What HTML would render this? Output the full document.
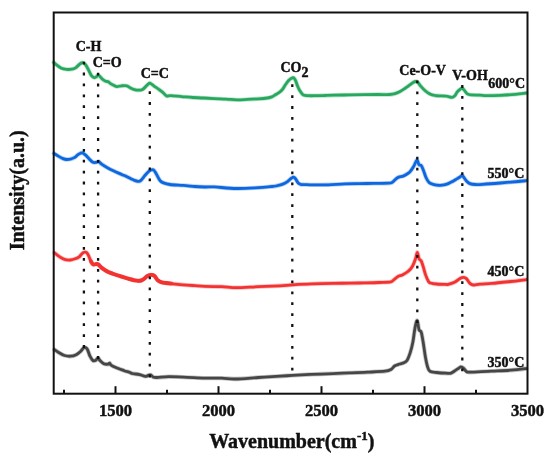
<!DOCTYPE html>
<html><head><meta charset="utf-8"><style>
html,body{margin:0;padding:0;background:#fff;}
svg{display:block;}
#w{width:550px;height:458px;}
text{font-family:"Liberation Serif","DejaVu Serif",serif;font-weight:bold;fill:#111;stroke:#111;stroke-width:0.45px;}
</style></head><body><div id="w">
<svg width="550" height="458" viewBox="0 0 550 458">
<g fill="none" stroke-width="4.4" stroke-opacity="0.3" stroke-linejoin="round" stroke-linecap="round">
<path stroke="#27a85e" d="M53.8,62.4C54.2,62.8 55.3,63.9 56.5,64.8C57.7,65.7 59.2,67.1 60.9,67.9C62.5,68.7 64.6,69.2 66.4,69.4C68.2,69.6 70.3,69.5 71.8,69.2C73.3,69.0 74.4,68.6 75.6,67.9C76.8,67.2 77.9,65.6 78.9,64.8C79.9,64.0 80.8,63.2 81.6,62.9C82.4,62.6 83.1,62.5 83.8,62.9C84.5,63.3 85.2,64.2 86.0,65.4C86.8,66.6 87.8,68.6 88.7,70.3C89.6,72.0 90.6,74.5 91.5,75.7C92.4,76.9 93.4,77.4 94.2,77.6C95.0,77.8 95.8,77.2 96.4,76.8C97.0,76.3 97.4,74.9 98.0,74.9C98.6,74.9 99.5,76.1 100.2,76.8C100.9,77.5 101.5,78.5 102.4,79.2C103.3,79.9 104.6,80.8 105.6,81.2C106.6,81.6 107.5,81.4 108.3,81.8C109.1,82.2 109.6,83.0 110.5,83.6C111.4,84.2 112.6,84.8 113.7,85.3C114.8,85.8 115.7,86.5 117.0,86.6C118.3,86.7 119.8,85.9 121.4,85.8C123.0,85.7 125.3,85.5 126.8,85.8C128.2,86.1 128.8,87.1 130.1,87.7C131.4,88.3 133.1,89.2 134.5,89.6C135.9,90.0 137.5,90.2 138.8,90.2C140.2,90.2 141.4,90.0 142.6,89.4C143.8,88.8 144.8,87.4 145.9,86.4C147.0,85.4 148.4,83.8 149.2,83.3C150.0,82.8 150.0,83.1 150.8,83.6C151.6,84.1 152.8,85.2 154.1,86.1C155.4,87.0 157.1,88.0 158.5,89.1C159.9,90.1 161.5,91.3 162.8,92.4C164.1,93.5 165.2,95.4 166.5,95.9C167.8,96.4 168.3,95.5 170.9,95.6C173.5,95.7 178.2,96.3 181.8,96.6C185.4,96.9 189.1,97.3 192.7,97.5C196.3,97.7 200.0,97.8 203.6,98.0C207.2,98.2 210.8,98.4 214.5,98.6C218.2,98.8 222.2,98.9 225.9,99.1C229.6,99.3 233.2,99.9 236.8,99.9C240.4,100.0 244.1,99.6 247.7,99.4C251.3,99.2 255.3,99.0 258.6,98.8C261.9,98.6 265.2,98.3 267.4,98.0C269.6,97.7 270.3,97.5 271.7,96.9C273.1,96.3 274.5,95.3 275.9,94.5C277.3,93.7 278.9,92.6 280.0,91.8C281.1,91.0 281.8,90.3 282.5,89.4C283.2,88.5 283.8,87.3 284.5,86.2C285.2,85.1 286.0,83.8 286.8,82.8C287.6,81.8 288.4,80.7 289.1,80.0C289.9,79.3 290.6,78.8 291.3,78.4C292.0,78.0 292.7,77.5 293.3,77.7C293.9,77.9 294.5,78.7 295.0,79.5C295.5,80.3 295.9,81.4 296.3,82.5C296.7,83.6 297.0,84.8 297.6,86.2C298.2,87.6 299.0,89.4 299.9,90.8C300.8,92.2 301.8,93.7 302.7,94.5C303.6,95.3 304.0,95.2 305.0,95.4C306.0,95.6 306.5,95.7 308.6,95.7C310.7,95.8 314.7,95.7 317.4,95.7C320.1,95.7 322.1,95.6 325.0,95.5C327.9,95.4 330.5,95.3 334.5,95.2C338.5,95.1 344.2,95.0 349.1,94.9C354.0,94.8 358.8,94.7 363.6,94.6C368.5,94.5 373.8,94.5 378.2,94.5C382.6,94.5 387.0,94.7 389.8,94.5C392.6,94.3 393.3,94.1 395.0,93.6C396.7,93.1 398.3,92.5 400.0,91.6C401.7,90.7 403.4,89.5 405.0,88.4C406.6,87.3 408.1,86.2 409.5,85.2C410.9,84.2 412.4,82.8 413.5,82.2C414.6,81.6 415.4,81.4 416.2,81.5C417.0,81.6 417.5,82.0 418.2,82.7C418.9,83.4 419.3,84.5 420.5,85.9C421.7,87.3 423.9,89.7 425.5,91.0C427.1,92.3 428.3,93.2 429.9,93.9C431.5,94.7 433.6,95.2 435.0,95.5C436.4,95.8 436.7,95.7 438.6,95.8C440.5,95.9 444.1,95.8 446.3,96.1C448.5,96.3 450.6,97.4 452.0,97.3C453.4,97.2 454.1,96.4 455.0,95.5C455.9,94.6 456.4,92.9 457.3,91.8C458.2,90.7 459.7,89.6 460.5,89.0C461.3,88.4 461.6,88.0 462.3,88.2C463.0,88.5 463.7,89.5 464.5,90.5C465.3,91.5 466.2,93.2 467.3,93.9C468.4,94.6 468.8,94.7 470.9,94.9C473.0,95.1 477.4,95.1 480.0,95.2C482.6,95.3 482.9,95.6 486.4,95.6C489.9,95.6 496.0,95.5 500.9,95.3C505.8,95.1 511.2,94.7 515.5,94.3C519.8,93.9 524.6,93.2 526.4,93.0"/>
<path stroke="#0d67de" d="M54.0,153.4C54.8,153.9 57.2,155.5 58.7,156.4C60.2,157.3 61.7,158.1 63.0,158.6C64.3,159.1 65.5,159.4 66.7,159.5C67.9,159.6 69.1,159.4 70.4,159.1C71.7,158.8 73.4,158.2 74.7,157.4C76.0,156.7 77.0,155.3 78.0,154.6C79.0,153.9 79.8,153.5 80.5,153.2C81.2,152.9 81.7,152.6 82.5,152.9C83.3,153.2 84.5,154.1 85.6,155.1C86.7,156.1 88.1,157.8 89.3,159.0C90.5,160.2 91.7,161.8 92.9,162.3C94.1,162.9 95.5,162.4 96.5,162.3C97.5,162.2 97.9,161.2 98.7,161.5C99.5,161.8 100.0,163.0 101.6,164.1C103.2,165.2 105.9,166.9 108.2,168.2C110.5,169.5 113.1,170.6 115.5,171.7C117.9,172.8 121.1,174.3 122.7,175.0C124.3,175.7 123.7,175.2 125.0,175.8C126.3,176.4 129.2,177.9 130.8,178.7C132.4,179.5 133.3,180.0 134.5,180.4C135.7,180.8 136.9,181.2 137.9,181.3C138.9,181.4 139.3,181.7 140.5,180.7C141.7,179.7 143.6,177.0 145.1,175.3C146.6,173.6 148.5,171.5 149.7,170.6C150.8,169.7 151.3,169.9 152.0,169.8C152.7,169.7 153.1,169.6 153.6,170.0C154.1,170.4 154.5,170.9 155.2,172.0C155.9,173.1 156.8,174.9 157.6,176.4C158.4,177.9 159.2,179.7 160.2,180.8C161.2,181.9 161.9,182.3 163.5,182.9C165.1,183.5 166.7,184.1 170.0,184.5C173.3,184.9 179.1,185.1 183.2,185.4C187.3,185.7 191.2,186.2 194.8,186.5C198.4,186.8 201.7,186.9 205.0,187.0C208.3,187.1 209.3,186.7 214.5,186.9C219.7,187.2 229.1,188.4 236.4,188.5C243.7,188.6 252.6,188.0 258.2,187.7C263.8,187.4 267.0,187.0 270.0,186.7C273.0,186.4 274.0,186.4 276.0,186.0C278.0,185.6 280.3,185.1 282.2,184.4C284.1,183.7 285.8,182.8 287.1,181.9C288.4,181.0 289.3,179.9 290.2,179.1C291.1,178.3 292.0,177.5 292.7,177.3C293.4,177.1 293.9,177.2 294.5,177.7C295.1,178.2 295.8,179.2 296.4,180.1C297.0,181.0 297.5,182.3 298.2,183.0C298.9,183.7 299.6,184.0 300.7,184.3C301.8,184.6 302.9,184.5 305.0,184.6C307.1,184.7 309.7,184.9 313.6,184.9C317.5,184.9 323.0,185.0 328.2,184.8C333.4,184.6 339.8,184.1 345.0,183.9C350.2,183.7 354.6,183.7 359.5,183.6C364.4,183.5 369.2,183.5 374.1,183.4C379.0,183.3 385.6,183.4 388.6,183.2C391.6,183.0 391.1,183.0 392.3,182.3C393.5,181.6 394.8,179.9 395.9,179.0C397.0,178.1 397.6,177.6 398.8,177.1C400.0,176.6 401.8,176.7 403.2,176.1C404.6,175.5 406.4,174.4 407.5,173.7C408.6,173.0 409.0,173.0 410.1,171.7C411.2,170.4 412.8,167.9 413.9,166.0C415.0,164.1 416.0,160.2 416.9,160.0C417.8,159.8 418.3,163.8 419.0,164.7C419.7,165.6 420.6,164.6 421.3,165.6C422.1,166.6 422.7,168.5 423.5,170.5C424.3,172.5 425.1,175.5 426.0,177.5C426.9,179.5 427.8,181.4 429.2,182.6C430.6,183.8 432.6,184.1 434.3,184.6C436.0,185.1 437.9,185.2 439.5,185.3C441.1,185.4 442.6,185.2 444.0,184.9C445.4,184.6 446.7,184.2 448.2,183.6C449.7,183.0 451.5,182.0 453.0,181.2C454.5,180.4 456.1,179.3 457.3,178.6C458.5,177.9 459.2,177.5 460.0,177.0C460.8,176.5 461.6,175.3 462.3,175.5C463.1,175.7 463.8,177.5 464.5,178.4C465.2,179.3 465.5,180.0 466.4,180.9C467.3,181.8 468.5,183.0 470.0,183.6C471.5,184.2 473.4,184.4 475.5,184.5C477.6,184.6 478.5,184.6 482.7,184.3C486.9,184.1 494.6,183.5 500.5,183.0C506.4,182.5 513.9,181.9 518.2,181.5C522.5,181.1 525.1,180.8 526.5,180.7"/>
<path stroke="#f33232" d="M54.4,252.7C55.1,253.3 57.0,255.0 58.7,256.1C60.4,257.2 62.5,258.8 64.5,259.4C66.5,260.0 68.5,260.2 70.4,260.0C72.4,259.8 74.8,258.9 76.2,258.4C77.7,257.9 78.2,257.6 79.1,256.9C80.0,256.2 80.8,255.0 81.5,254.3C82.2,253.6 82.8,252.8 83.5,252.5C84.2,252.2 84.9,252.1 85.5,252.2C86.1,252.3 86.8,252.7 87.3,253.3C87.8,253.9 88.1,254.6 88.7,255.9C89.3,257.2 90.2,259.8 90.9,261.2C91.6,262.6 92.2,263.9 93.1,264.4C94.0,264.9 95.5,264.0 96.4,264.0C97.3,264.0 97.6,264.0 98.5,264.6C99.4,265.2 100.3,266.8 101.8,267.9C103.3,269.0 105.5,270.5 107.3,271.5C109.1,272.5 110.9,273.0 112.7,273.7C114.5,274.4 116.2,274.9 118.0,275.5C119.8,276.1 121.8,276.6 123.6,277.2C125.4,277.8 127.2,278.4 129.0,278.9C130.8,279.4 133.0,280.0 134.5,280.3C136.0,280.6 136.9,280.8 138.1,280.8C139.3,280.8 140.4,280.8 141.5,280.4C142.6,280.0 143.6,279.3 144.5,278.6C145.4,277.9 146.1,276.8 147.1,276.2C148.1,275.6 149.2,275.0 150.4,274.9C151.6,274.8 153.1,274.8 154.3,275.7C155.5,276.6 156.4,279.0 157.6,280.1C158.8,281.2 160.1,281.8 161.5,282.3C162.9,282.8 164.3,282.8 166.0,283.0C167.7,283.2 168.6,283.3 171.5,283.6C174.4,283.9 179.3,284.6 183.2,284.9C187.1,285.2 191.2,285.4 194.8,285.6C198.4,285.9 200.5,286.2 205.0,286.4C209.5,286.6 216.6,286.5 221.8,286.7C227.0,286.9 230.3,287.7 236.4,287.7C242.5,287.7 250.9,287.0 258.2,286.7C265.5,286.4 274.3,286.1 280.0,285.8C285.7,285.5 287.3,285.1 292.5,284.8C297.7,284.5 304.6,284.1 311.4,283.9C318.2,283.6 326.8,283.4 333.2,283.3C339.6,283.2 344.8,283.3 350.0,283.2C355.2,283.1 359.6,283.0 364.5,282.9C369.4,282.8 374.7,282.7 379.1,282.5C383.5,282.3 388.3,282.3 390.7,281.9C393.1,281.5 392.4,280.9 393.6,280.0C394.8,279.1 396.5,277.2 398.0,276.4C399.5,275.5 400.7,275.8 402.4,274.9C404.1,274.0 406.5,272.8 408.2,271.3C409.9,269.9 411.3,268.3 412.5,266.2C413.7,264.1 414.7,261.2 415.5,258.9C416.3,256.6 416.7,252.3 417.3,252.3C417.9,252.3 418.4,257.4 419.1,258.9C419.8,260.4 420.6,259.7 421.3,261.1C422.0,262.6 422.8,265.3 423.5,267.6C424.2,269.9 424.8,272.6 425.6,274.9C426.4,277.2 427.7,280.1 428.5,281.5C429.3,282.9 429.2,282.6 430.5,283.0C431.8,283.4 433.9,283.8 436.5,284.0C439.1,284.2 444.1,284.3 446.0,284.4C447.9,284.5 446.8,284.8 448.2,284.4C449.6,284.0 452.5,283.3 454.5,282.3C456.5,281.3 458.5,279.2 460.0,278.4C461.5,277.6 462.5,277.4 463.6,277.4C464.7,277.4 465.3,277.6 466.4,278.6C467.5,279.6 468.8,282.3 470.0,283.4C471.2,284.5 471.9,284.9 473.6,285.0C475.3,285.1 477.0,284.4 480.0,284.1C483.0,283.8 486.7,283.8 491.8,283.4C496.9,283.0 505.2,282.1 510.9,281.5C516.6,280.9 523.7,279.9 526.2,279.6"/>
<path stroke="#464646" d="M54.4,349.6C55.1,350.1 57.0,351.5 58.7,352.5C60.4,353.5 62.5,354.9 64.5,355.5C66.5,356.1 68.5,356.3 70.4,356.2C72.4,356.1 74.5,355.5 76.2,354.7C77.9,353.9 79.2,352.7 80.5,351.5C81.8,350.3 83.1,347.9 84.2,347.5C85.3,347.1 86.1,347.4 87.1,348.9C88.1,350.3 89.0,354.3 90.0,356.2C91.0,358.1 91.9,359.8 92.9,360.5C93.9,361.2 95.0,360.7 95.8,360.3C96.6,359.9 97.3,357.8 98.0,357.9C98.7,358.0 99.2,359.8 100.2,360.8C101.2,361.8 102.5,363.1 103.8,363.7C105.1,364.3 107.2,364.3 108.2,364.2C109.2,364.1 109.0,363.0 109.6,363.2C110.2,363.4 110.3,364.7 111.8,365.6C113.3,366.5 116.3,367.6 118.4,368.5C120.5,369.4 122.3,370.0 124.2,370.7C126.1,371.4 128.7,372.0 130.0,372.5C131.3,373.0 130.7,373.1 132.3,373.5C133.9,373.9 137.3,374.1 139.5,374.6C141.7,375.1 143.9,376.3 145.4,376.4C146.9,376.5 147.5,375.6 148.3,375.3C149.2,375.1 149.7,374.6 150.5,374.9C151.3,375.2 152.3,376.7 153.4,377.1C154.5,377.5 154.5,377.6 157.0,377.5C159.5,377.4 164.2,376.8 168.6,376.7C173.0,376.6 177.1,376.9 183.2,377.1C189.3,377.3 198.6,377.9 205.0,378.1C211.4,378.3 216.8,378.0 221.8,378.1C226.8,378.2 228.8,379.1 234.9,379.0C241.0,378.9 250.7,378.0 258.2,377.5C265.7,377.0 274.3,376.6 280.0,376.2C285.7,375.8 287.3,375.7 292.5,375.4C297.7,375.1 304.6,374.7 311.4,374.4C318.2,374.1 326.8,373.9 333.2,373.6C339.6,373.4 344.3,373.1 350.0,372.9C355.7,372.7 361.7,372.5 367.5,372.2C373.3,371.9 381.0,371.6 384.9,371.2C388.8,370.8 389.4,370.4 391.0,369.5C392.6,368.6 393.3,366.8 394.5,366.0C395.7,365.2 396.7,365.1 398.0,364.6C399.3,364.1 400.9,363.8 402.4,363.2C403.9,362.6 405.5,362.6 406.8,360.8C408.1,359.0 409.3,355.5 410.3,352.4C411.3,349.2 412.1,346.0 412.9,341.9C413.7,337.8 414.3,331.4 415.0,327.9C415.7,324.3 416.5,320.3 417.2,320.6C417.9,320.9 418.3,327.8 419.0,329.7C419.7,331.6 420.6,330.0 421.3,332.3C422.0,334.6 422.7,339.5 423.4,343.7C424.1,347.9 424.8,353.7 425.5,357.6C426.2,361.5 426.9,364.9 427.7,367.2C428.4,369.5 428.5,370.4 430.0,371.3C431.5,372.2 433.8,372.2 436.5,372.5C439.2,372.8 443.6,373.1 446.0,373.2C448.4,373.3 449.4,373.6 451.0,373.1C452.6,372.6 454.2,371.2 455.5,370.4C456.8,369.6 457.7,368.9 458.6,368.3C459.5,367.7 460.2,366.9 461.0,366.9C461.8,366.9 462.7,367.4 463.6,368.2C464.5,369.0 465.3,370.8 466.4,371.5C467.5,372.2 465.8,372.3 470.0,372.2C474.2,372.1 485.0,371.4 491.8,371.1C498.6,370.8 505.2,370.6 510.9,370.2C516.6,369.8 523.7,368.9 526.2,368.6"/>
</g>
<g fill="none" stroke-width="2.8" stroke-linejoin="round" stroke-linecap="round">
<path stroke="#27a85e" d="M53.8,62.4C54.2,62.8 55.3,63.9 56.5,64.8C57.7,65.7 59.2,67.1 60.9,67.9C62.5,68.7 64.6,69.2 66.4,69.4C68.2,69.6 70.3,69.5 71.8,69.2C73.3,69.0 74.4,68.6 75.6,67.9C76.8,67.2 77.9,65.6 78.9,64.8C79.9,64.0 80.8,63.2 81.6,62.9C82.4,62.6 83.1,62.5 83.8,62.9C84.5,63.3 85.2,64.2 86.0,65.4C86.8,66.6 87.8,68.6 88.7,70.3C89.6,72.0 90.6,74.5 91.5,75.7C92.4,76.9 93.4,77.4 94.2,77.6C95.0,77.8 95.8,77.2 96.4,76.8C97.0,76.3 97.4,74.9 98.0,74.9C98.6,74.9 99.5,76.1 100.2,76.8C100.9,77.5 101.5,78.5 102.4,79.2C103.3,79.9 104.6,80.8 105.6,81.2C106.6,81.6 107.5,81.4 108.3,81.8C109.1,82.2 109.6,83.0 110.5,83.6C111.4,84.2 112.6,84.8 113.7,85.3C114.8,85.8 115.7,86.5 117.0,86.6C118.3,86.7 119.8,85.9 121.4,85.8C123.0,85.7 125.3,85.5 126.8,85.8C128.2,86.1 128.8,87.1 130.1,87.7C131.4,88.3 133.1,89.2 134.5,89.6C135.9,90.0 137.5,90.2 138.8,90.2C140.2,90.2 141.4,90.0 142.6,89.4C143.8,88.8 144.8,87.4 145.9,86.4C147.0,85.4 148.4,83.8 149.2,83.3C150.0,82.8 150.0,83.1 150.8,83.6C151.6,84.1 152.8,85.2 154.1,86.1C155.4,87.0 157.1,88.0 158.5,89.1C159.9,90.1 161.5,91.3 162.8,92.4C164.1,93.5 165.2,95.4 166.5,95.9C167.8,96.4 168.3,95.5 170.9,95.6C173.5,95.7 178.2,96.3 181.8,96.6C185.4,96.9 189.1,97.3 192.7,97.5C196.3,97.7 200.0,97.8 203.6,98.0C207.2,98.2 210.8,98.4 214.5,98.6C218.2,98.8 222.2,98.9 225.9,99.1C229.6,99.3 233.2,99.9 236.8,99.9C240.4,100.0 244.1,99.6 247.7,99.4C251.3,99.2 255.3,99.0 258.6,98.8C261.9,98.6 265.2,98.3 267.4,98.0C269.6,97.7 270.3,97.5 271.7,96.9C273.1,96.3 274.5,95.3 275.9,94.5C277.3,93.7 278.9,92.6 280.0,91.8C281.1,91.0 281.8,90.3 282.5,89.4C283.2,88.5 283.8,87.3 284.5,86.2C285.2,85.1 286.0,83.8 286.8,82.8C287.6,81.8 288.4,80.7 289.1,80.0C289.9,79.3 290.6,78.8 291.3,78.4C292.0,78.0 292.7,77.5 293.3,77.7C293.9,77.9 294.5,78.7 295.0,79.5C295.5,80.3 295.9,81.4 296.3,82.5C296.7,83.6 297.0,84.8 297.6,86.2C298.2,87.6 299.0,89.4 299.9,90.8C300.8,92.2 301.8,93.7 302.7,94.5C303.6,95.3 304.0,95.2 305.0,95.4C306.0,95.6 306.5,95.7 308.6,95.7C310.7,95.8 314.7,95.7 317.4,95.7C320.1,95.7 322.1,95.6 325.0,95.5C327.9,95.4 330.5,95.3 334.5,95.2C338.5,95.1 344.2,95.0 349.1,94.9C354.0,94.8 358.8,94.7 363.6,94.6C368.5,94.5 373.8,94.5 378.2,94.5C382.6,94.5 387.0,94.7 389.8,94.5C392.6,94.3 393.3,94.1 395.0,93.6C396.7,93.1 398.3,92.5 400.0,91.6C401.7,90.7 403.4,89.5 405.0,88.4C406.6,87.3 408.1,86.2 409.5,85.2C410.9,84.2 412.4,82.8 413.5,82.2C414.6,81.6 415.4,81.4 416.2,81.5C417.0,81.6 417.5,82.0 418.2,82.7C418.9,83.4 419.3,84.5 420.5,85.9C421.7,87.3 423.9,89.7 425.5,91.0C427.1,92.3 428.3,93.2 429.9,93.9C431.5,94.7 433.6,95.2 435.0,95.5C436.4,95.8 436.7,95.7 438.6,95.8C440.5,95.9 444.1,95.8 446.3,96.1C448.5,96.3 450.6,97.4 452.0,97.3C453.4,97.2 454.1,96.4 455.0,95.5C455.9,94.6 456.4,92.9 457.3,91.8C458.2,90.7 459.7,89.6 460.5,89.0C461.3,88.4 461.6,88.0 462.3,88.2C463.0,88.5 463.7,89.5 464.5,90.5C465.3,91.5 466.2,93.2 467.3,93.9C468.4,94.6 468.8,94.7 470.9,94.9C473.0,95.1 477.4,95.1 480.0,95.2C482.6,95.3 482.9,95.6 486.4,95.6C489.9,95.6 496.0,95.5 500.9,95.3C505.8,95.1 511.2,94.7 515.5,94.3C519.8,93.9 524.6,93.2 526.4,93.0"/>
<path stroke="#0d67de" d="M54.0,153.4C54.8,153.9 57.2,155.5 58.7,156.4C60.2,157.3 61.7,158.1 63.0,158.6C64.3,159.1 65.5,159.4 66.7,159.5C67.9,159.6 69.1,159.4 70.4,159.1C71.7,158.8 73.4,158.2 74.7,157.4C76.0,156.7 77.0,155.3 78.0,154.6C79.0,153.9 79.8,153.5 80.5,153.2C81.2,152.9 81.7,152.6 82.5,152.9C83.3,153.2 84.5,154.1 85.6,155.1C86.7,156.1 88.1,157.8 89.3,159.0C90.5,160.2 91.7,161.8 92.9,162.3C94.1,162.9 95.5,162.4 96.5,162.3C97.5,162.2 97.9,161.2 98.7,161.5C99.5,161.8 100.0,163.0 101.6,164.1C103.2,165.2 105.9,166.9 108.2,168.2C110.5,169.5 113.1,170.6 115.5,171.7C117.9,172.8 121.1,174.3 122.7,175.0C124.3,175.7 123.7,175.2 125.0,175.8C126.3,176.4 129.2,177.9 130.8,178.7C132.4,179.5 133.3,180.0 134.5,180.4C135.7,180.8 136.9,181.2 137.9,181.3C138.9,181.4 139.3,181.7 140.5,180.7C141.7,179.7 143.6,177.0 145.1,175.3C146.6,173.6 148.5,171.5 149.7,170.6C150.8,169.7 151.3,169.9 152.0,169.8C152.7,169.7 153.1,169.6 153.6,170.0C154.1,170.4 154.5,170.9 155.2,172.0C155.9,173.1 156.8,174.9 157.6,176.4C158.4,177.9 159.2,179.7 160.2,180.8C161.2,181.9 161.9,182.3 163.5,182.9C165.1,183.5 166.7,184.1 170.0,184.5C173.3,184.9 179.1,185.1 183.2,185.4C187.3,185.7 191.2,186.2 194.8,186.5C198.4,186.8 201.7,186.9 205.0,187.0C208.3,187.1 209.3,186.7 214.5,186.9C219.7,187.2 229.1,188.4 236.4,188.5C243.7,188.6 252.6,188.0 258.2,187.7C263.8,187.4 267.0,187.0 270.0,186.7C273.0,186.4 274.0,186.4 276.0,186.0C278.0,185.6 280.3,185.1 282.2,184.4C284.1,183.7 285.8,182.8 287.1,181.9C288.4,181.0 289.3,179.9 290.2,179.1C291.1,178.3 292.0,177.5 292.7,177.3C293.4,177.1 293.9,177.2 294.5,177.7C295.1,178.2 295.8,179.2 296.4,180.1C297.0,181.0 297.5,182.3 298.2,183.0C298.9,183.7 299.6,184.0 300.7,184.3C301.8,184.6 302.9,184.5 305.0,184.6C307.1,184.7 309.7,184.9 313.6,184.9C317.5,184.9 323.0,185.0 328.2,184.8C333.4,184.6 339.8,184.1 345.0,183.9C350.2,183.7 354.6,183.7 359.5,183.6C364.4,183.5 369.2,183.5 374.1,183.4C379.0,183.3 385.6,183.4 388.6,183.2C391.6,183.0 391.1,183.0 392.3,182.3C393.5,181.6 394.8,179.9 395.9,179.0C397.0,178.1 397.6,177.6 398.8,177.1C400.0,176.6 401.8,176.7 403.2,176.1C404.6,175.5 406.4,174.4 407.5,173.7C408.6,173.0 409.0,173.0 410.1,171.7C411.2,170.4 412.8,167.9 413.9,166.0C415.0,164.1 416.0,160.2 416.9,160.0C417.8,159.8 418.3,163.8 419.0,164.7C419.7,165.6 420.6,164.6 421.3,165.6C422.1,166.6 422.7,168.5 423.5,170.5C424.3,172.5 425.1,175.5 426.0,177.5C426.9,179.5 427.8,181.4 429.2,182.6C430.6,183.8 432.6,184.1 434.3,184.6C436.0,185.1 437.9,185.2 439.5,185.3C441.1,185.4 442.6,185.2 444.0,184.9C445.4,184.6 446.7,184.2 448.2,183.6C449.7,183.0 451.5,182.0 453.0,181.2C454.5,180.4 456.1,179.3 457.3,178.6C458.5,177.9 459.2,177.5 460.0,177.0C460.8,176.5 461.6,175.3 462.3,175.5C463.1,175.7 463.8,177.5 464.5,178.4C465.2,179.3 465.5,180.0 466.4,180.9C467.3,181.8 468.5,183.0 470.0,183.6C471.5,184.2 473.4,184.4 475.5,184.5C477.6,184.6 478.5,184.6 482.7,184.3C486.9,184.1 494.6,183.5 500.5,183.0C506.4,182.5 513.9,181.9 518.2,181.5C522.5,181.1 525.1,180.8 526.5,180.7"/>
<path stroke="#f33232" d="M54.4,252.7C55.1,253.3 57.0,255.0 58.7,256.1C60.4,257.2 62.5,258.8 64.5,259.4C66.5,260.0 68.5,260.2 70.4,260.0C72.4,259.8 74.8,258.9 76.2,258.4C77.7,257.9 78.2,257.6 79.1,256.9C80.0,256.2 80.8,255.0 81.5,254.3C82.2,253.6 82.8,252.8 83.5,252.5C84.2,252.2 84.9,252.1 85.5,252.2C86.1,252.3 86.8,252.7 87.3,253.3C87.8,253.9 88.1,254.6 88.7,255.9C89.3,257.2 90.2,259.8 90.9,261.2C91.6,262.6 92.2,263.9 93.1,264.4C94.0,264.9 95.5,264.0 96.4,264.0C97.3,264.0 97.6,264.0 98.5,264.6C99.4,265.2 100.3,266.8 101.8,267.9C103.3,269.0 105.5,270.5 107.3,271.5C109.1,272.5 110.9,273.0 112.7,273.7C114.5,274.4 116.2,274.9 118.0,275.5C119.8,276.1 121.8,276.6 123.6,277.2C125.4,277.8 127.2,278.4 129.0,278.9C130.8,279.4 133.0,280.0 134.5,280.3C136.0,280.6 136.9,280.8 138.1,280.8C139.3,280.8 140.4,280.8 141.5,280.4C142.6,280.0 143.6,279.3 144.5,278.6C145.4,277.9 146.1,276.8 147.1,276.2C148.1,275.6 149.2,275.0 150.4,274.9C151.6,274.8 153.1,274.8 154.3,275.7C155.5,276.6 156.4,279.0 157.6,280.1C158.8,281.2 160.1,281.8 161.5,282.3C162.9,282.8 164.3,282.8 166.0,283.0C167.7,283.2 168.6,283.3 171.5,283.6C174.4,283.9 179.3,284.6 183.2,284.9C187.1,285.2 191.2,285.4 194.8,285.6C198.4,285.9 200.5,286.2 205.0,286.4C209.5,286.6 216.6,286.5 221.8,286.7C227.0,286.9 230.3,287.7 236.4,287.7C242.5,287.7 250.9,287.0 258.2,286.7C265.5,286.4 274.3,286.1 280.0,285.8C285.7,285.5 287.3,285.1 292.5,284.8C297.7,284.5 304.6,284.1 311.4,283.9C318.2,283.6 326.8,283.4 333.2,283.3C339.6,283.2 344.8,283.3 350.0,283.2C355.2,283.1 359.6,283.0 364.5,282.9C369.4,282.8 374.7,282.7 379.1,282.5C383.5,282.3 388.3,282.3 390.7,281.9C393.1,281.5 392.4,280.9 393.6,280.0C394.8,279.1 396.5,277.2 398.0,276.4C399.5,275.5 400.7,275.8 402.4,274.9C404.1,274.0 406.5,272.8 408.2,271.3C409.9,269.9 411.3,268.3 412.5,266.2C413.7,264.1 414.7,261.2 415.5,258.9C416.3,256.6 416.7,252.3 417.3,252.3C417.9,252.3 418.4,257.4 419.1,258.9C419.8,260.4 420.6,259.7 421.3,261.1C422.0,262.6 422.8,265.3 423.5,267.6C424.2,269.9 424.8,272.6 425.6,274.9C426.4,277.2 427.7,280.1 428.5,281.5C429.3,282.9 429.2,282.6 430.5,283.0C431.8,283.4 433.9,283.8 436.5,284.0C439.1,284.2 444.1,284.3 446.0,284.4C447.9,284.5 446.8,284.8 448.2,284.4C449.6,284.0 452.5,283.3 454.5,282.3C456.5,281.3 458.5,279.2 460.0,278.4C461.5,277.6 462.5,277.4 463.6,277.4C464.7,277.4 465.3,277.6 466.4,278.6C467.5,279.6 468.8,282.3 470.0,283.4C471.2,284.5 471.9,284.9 473.6,285.0C475.3,285.1 477.0,284.4 480.0,284.1C483.0,283.8 486.7,283.8 491.8,283.4C496.9,283.0 505.2,282.1 510.9,281.5C516.6,280.9 523.7,279.9 526.2,279.6"/>
<path stroke="#464646" d="M54.4,349.6C55.1,350.1 57.0,351.5 58.7,352.5C60.4,353.5 62.5,354.9 64.5,355.5C66.5,356.1 68.5,356.3 70.4,356.2C72.4,356.1 74.5,355.5 76.2,354.7C77.9,353.9 79.2,352.7 80.5,351.5C81.8,350.3 83.1,347.9 84.2,347.5C85.3,347.1 86.1,347.4 87.1,348.9C88.1,350.3 89.0,354.3 90.0,356.2C91.0,358.1 91.9,359.8 92.9,360.5C93.9,361.2 95.0,360.7 95.8,360.3C96.6,359.9 97.3,357.8 98.0,357.9C98.7,358.0 99.2,359.8 100.2,360.8C101.2,361.8 102.5,363.1 103.8,363.7C105.1,364.3 107.2,364.3 108.2,364.2C109.2,364.1 109.0,363.0 109.6,363.2C110.2,363.4 110.3,364.7 111.8,365.6C113.3,366.5 116.3,367.6 118.4,368.5C120.5,369.4 122.3,370.0 124.2,370.7C126.1,371.4 128.7,372.0 130.0,372.5C131.3,373.0 130.7,373.1 132.3,373.5C133.9,373.9 137.3,374.1 139.5,374.6C141.7,375.1 143.9,376.3 145.4,376.4C146.9,376.5 147.5,375.6 148.3,375.3C149.2,375.1 149.7,374.6 150.5,374.9C151.3,375.2 152.3,376.7 153.4,377.1C154.5,377.5 154.5,377.6 157.0,377.5C159.5,377.4 164.2,376.8 168.6,376.7C173.0,376.6 177.1,376.9 183.2,377.1C189.3,377.3 198.6,377.9 205.0,378.1C211.4,378.3 216.8,378.0 221.8,378.1C226.8,378.2 228.8,379.1 234.9,379.0C241.0,378.9 250.7,378.0 258.2,377.5C265.7,377.0 274.3,376.6 280.0,376.2C285.7,375.8 287.3,375.7 292.5,375.4C297.7,375.1 304.6,374.7 311.4,374.4C318.2,374.1 326.8,373.9 333.2,373.6C339.6,373.4 344.3,373.1 350.0,372.9C355.7,372.7 361.7,372.5 367.5,372.2C373.3,371.9 381.0,371.6 384.9,371.2C388.8,370.8 389.4,370.4 391.0,369.5C392.6,368.6 393.3,366.8 394.5,366.0C395.7,365.2 396.7,365.1 398.0,364.6C399.3,364.1 400.9,363.8 402.4,363.2C403.9,362.6 405.5,362.6 406.8,360.8C408.1,359.0 409.3,355.5 410.3,352.4C411.3,349.2 412.1,346.0 412.9,341.9C413.7,337.8 414.3,331.4 415.0,327.9C415.7,324.3 416.5,320.3 417.2,320.6C417.9,320.9 418.3,327.8 419.0,329.7C419.7,331.6 420.6,330.0 421.3,332.3C422.0,334.6 422.7,339.5 423.4,343.7C424.1,347.9 424.8,353.7 425.5,357.6C426.2,361.5 426.9,364.9 427.7,367.2C428.4,369.5 428.5,370.4 430.0,371.3C431.5,372.2 433.8,372.2 436.5,372.5C439.2,372.8 443.6,373.1 446.0,373.2C448.4,373.3 449.4,373.6 451.0,373.1C452.6,372.6 454.2,371.2 455.5,370.4C456.8,369.6 457.7,368.9 458.6,368.3C459.5,367.7 460.2,366.9 461.0,366.9C461.8,366.9 462.7,367.4 463.6,368.2C464.5,369.0 465.3,370.8 466.4,371.5C467.5,372.2 465.8,372.3 470.0,372.2C474.2,372.1 485.0,371.4 491.8,371.1C498.6,370.8 505.2,370.6 510.9,370.2C516.6,369.8 523.7,368.9 526.2,368.6"/>
<path stroke="#f33232" stroke-width="3.8" d="M90.9,261.2C91.3,261.7 92.2,263.9 93.1,264.4C94.0,264.9 95.5,264.0 96.4,264.0C97.3,264.0 97.6,264.0 98.5,264.6C99.4,265.2 100.3,266.8 101.8,267.9C103.3,269.0 105.5,270.5 107.3,271.5C109.1,272.5 110.9,273.0 112.7,273.7C114.5,274.4 116.2,274.9 118.0,275.5C119.8,276.1 121.8,276.6 123.6,277.2C125.4,277.8 127.2,278.4 129.0,278.9C130.8,279.4 133.0,280.0 134.5,280.3C136.0,280.6 136.9,280.8 138.1,280.8C139.3,280.8 140.4,280.8 141.5,280.4C142.6,280.0 143.6,279.3 144.5,278.6C145.4,277.9 146.1,276.8 147.1,276.2C148.1,275.6 149.2,275.0 150.4,274.9C151.6,274.8 153.1,274.8 154.3,275.7C155.5,276.6 156.4,279.0 157.6,280.1C158.8,281.2 160.1,281.8 161.5,282.3C162.9,282.8 164.3,282.8 166.0,283.0C167.7,283.2 170.6,283.5 171.5,283.6"/>
</g>
<g stroke="#111" stroke-width="2.3" stroke-dasharray="2.8 8.1" fill="none"><line x1="83.9" y1="61.70" x2="83.9" y2="347.90"/><line x1="98.1" y1="72.70" x2="98.1" y2="358.90"/><line x1="149.8" y1="91.20" x2="149.8" y2="377.40"/><line x1="292.3" y1="84.30" x2="292.3" y2="370.50"/><line x1="417.3" y1="80.50" x2="417.3" y2="323.10"/><line x1="462.3" y1="85.10" x2="462.3" y2="371.30"/></g>
<rect x="53.7" y="12.5" width="473.8" height="381.2" fill="none" stroke="#111" stroke-width="2.0"/>
<g stroke="#111" stroke-width="2"><line x1="115.5" y1="393.7" x2="115.5" y2="386.2"/><line x1="218.5" y1="393.7" x2="218.5" y2="386.2"/><line x1="321.5" y1="393.7" x2="321.5" y2="386.2"/><line x1="424.5" y1="393.7" x2="424.5" y2="386.2"/><line x1="64.0" y1="393.7" x2="64.0" y2="389.7"/><line x1="167.0" y1="393.7" x2="167.0" y2="389.7"/><line x1="270.0" y1="393.7" x2="270.0" y2="389.7"/><line x1="373.0" y1="393.7" x2="373.0" y2="389.7"/><line x1="476.0" y1="393.7" x2="476.0" y2="389.7"/></g>
<g font-size="16.6"><text x="115.5" y="415.7" text-anchor="middle">1500</text><text x="218.5" y="415.7" text-anchor="middle">2000</text><text x="321.5" y="415.7" text-anchor="middle">2500</text><text x="424.5" y="415.7" text-anchor="middle">3000</text><text x="527.5" y="415.7" text-anchor="middle">3500</text></g>
<text x="291.8" y="448.3" font-size="20" text-anchor="middle">Wavenumber(cm<tspan font-size="13" dy="-8.3">-1</tspan><tspan dy="8.3">)</tspan></text>
<text transform="translate(23.8,190.3) rotate(-90)" font-size="20" text-anchor="middle">Intensity(a.u.)</text>
<g font-size="14">
<text x="75.7" y="51">C-H</text>
<text x="92.7" y="66.7">C=O</text>
<text x="140.7" y="77.6">C=C</text>
<text x="280.4" y="71.9">CO<tspan dy="5">2</tspan></text>
<text x="399.3" y="74.6">Ce-O-V</text>
<text x="452.3" y="79.6">V-OH</text>
<text x="525" y="88.2" text-anchor="end">600°C</text>
<text x="524.3" y="177.8" text-anchor="end">550°C</text>
<text x="524.3" y="276" text-anchor="end">450°C</text>
<text x="524.3" y="366.5" text-anchor="end">350°C</text>
</g>
</svg></div>
</body></html>
